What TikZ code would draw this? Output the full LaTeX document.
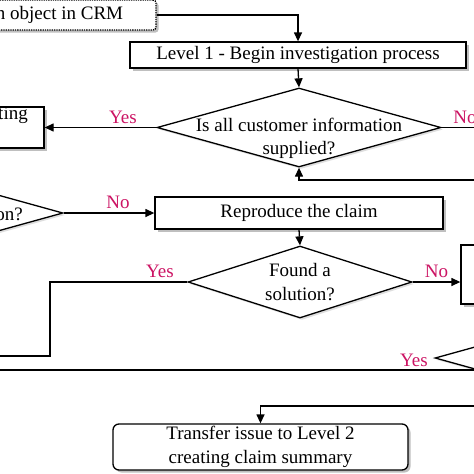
\documentclass[tikz,border=0pt]{standalone}
\usepackage{fontspec}
\setmainfont{Liberation Serif}
\usetikzlibrary{shapes.geometric,arrows.meta,shadows}
\definecolor{labred}{RGB}{204,20,100}

\begin{document}
\begin{tikzpicture}[x=1pt,y=-1pt,
  every node/.style={font=\fontsize{19}{23.5}\selectfont},
  stepbox/.style={draw, line width=1.3pt, fill=white, inner sep=2pt,
    drop shadow={shadow xshift=2.5pt,shadow yshift=-2.5pt,fill=black!50}},
  decision/.style={diamond, draw, line width=1.3pt, fill=white, inner sep=0pt, aspect=3.6,
    minimum width=284pt, minimum height=79pt,
    drop shadow={shadow xshift=2pt,shadow yshift=-2pt,fill=black!25}},
  flow/.style={line width=1.3pt, -{Triangle[length=9pt,width=8pt]}},
  line/.style={line width=1.3pt},
  ans/.style={text=labred}]
\clip (0,0) rectangle (474,474);
\fill[white] (0,0) rectangle (474,474);

% boxes
\node (crm) [stepbox, densely dotted, rounded corners=3pt, minimum width=193pt, minimum height=30pt] at (59.5,15) {n object in CRM};
\node (lvl1) [stepbox, minimum width=336pt, minimum height=26pt] at (298,55) {Level 1 - Begin investigation process};
\node (info) [decision, label={[align=center, yshift=-11pt]center:Is all customer information\\supplied?}] at (299,127.5) {};
\node (wait) [stepbox, minimum width=100pt, minimum height=41pt] at (-6,127.5) {};
\node (waittxt) [anchor=east, inner sep=0pt] at (28,115) {ting};
\node (prev) [decision] at (-79,213) {};
\node (prevtxt) [anchor=east, inner sep=0pt] at (23,214) {on?};
\node (repro) [stepbox, minimum width=288pt, minimum height=32pt] at (299,213) {Reproduce the claim};
\node (found) [decision, minimum width=224pt, minimum height=72pt, label={[align=center]center:Found a\\solution?}] at (300,282) {};
\node (esc) [stepbox, minimum width=100pt, minimum height=59pt] at (511,274.5) {};
\node (chk) [decision] at (577,358) {};
\node (xfer) [stepbox, rounded corners=6pt, minimum width=295pt, minimum height=46pt, align=center] at (260.5,447) {Transfer issue to Level 2\\creating claim summary};

\coordinate (xr1) at (475,127.5);
\coordinate (xr2) at (475,180);
\coordinate (yl1) at (50,356);
\coordinate (yl2) at (-1,356);
\coordinate (bl1) at (-1,370);
\coordinate (bl2) at (475,370);
\coordinate (xb) at (475,406);

% connectors
\draw[flow] (crm.east) -| (lvl1.north);
\draw[flow] (lvl1.south) -- (info.north);
\draw[flow] (info.west) -- node[ans, above, pos=0.3] {Yes} (wait.east);
\draw[line] (info.east) -- node[ans, above, pos=0.7] {No} (xr1);
\draw[flow] (xr2) -| (info.south);
\draw[flow] (prev.east) -- node[ans, above, pos=0.6] {No} (repro.west);
\draw[flow] (repro.south) -- (found.north);
\draw[line] (found.west) -| node[ans, above, pos=0.1] {Yes} (yl1) -- (yl2);
\draw[flow] (found.east) -- node[ans, above] {No} (found.east -| esc.west);
\draw[line] (bl1) -- (bl2);
\node[ans] at (414,360) {Yes};
\draw[flow] (xb) -| (xfer.north);
\end{tikzpicture}
\end{document}
